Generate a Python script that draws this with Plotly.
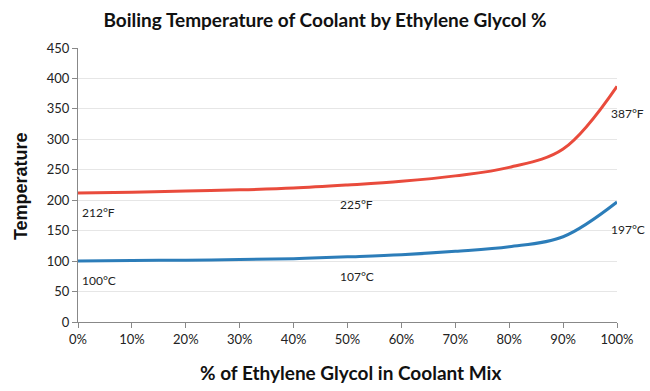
import plotly.graph_objects as go

pct = [0, 10, 20, 30, 40, 50, 60, 70, 80, 90, 100]
temp_f = [212, 213, 215, 217, 220, 225, 231, 240, 254, 284, 387]
temp_c = [100, 101, 101.5, 102.5, 104, 107, 110.5, 116, 123.5, 140, 197]

label_idx = [0, 5, 10]
RED = "rgb(233,75,60)"
BLUE = "rgb(44,125,185)"
FONT = "Lato"

fig = go.Figure()
fig.add_trace(go.Scatter(x=pct, y=temp_f, mode="lines",
                         line=dict(color=RED, width=3, shape="spline", smoothing=1.0),
                         hoverinfo="skip", showlegend=False))
fig.add_trace(go.Scatter(x=pct, y=temp_c, mode="lines",
                         line=dict(color=BLUE, width=3, shape="spline", smoothing=1.0),
                         hoverinfo="skip", showlegend=False))

anns = []
for series, unit in ((temp_f, "°F"), (temp_c, "°C")):
    for i in label_idx:
        x = pct[i]
        if i == 0:
            xa, xs = "left", 2
        elif i == len(pct) - 1:
            xa, xs = "left", -8
        else:
            xa, xs = "center", 9
        ys = -10 if i != len(pct) - 1 else -18
        anns.append(dict(x=x, y=series[i], xref="x", yref="y",
                         text=f"{round(series[i])}{unit}", showarrow=False,
                         xanchor=xa, yanchor="top", xshift=xs, yshift=ys,
                         font=dict(family=FONT, size=12, color="#222")))

anns.append(dict(text="<b>% of Ethylene Glycol in Coolant Mix</b>",
                 xref="paper", yref="paper", x=0.505, y=0, yshift=-50,
                 xanchor="center", yanchor="middle", showarrow=False,
                 font=dict(family=FONT, size=19, color="#111")))
anns.append(dict(text="<b>Temperature</b>", textangle=-90,
                 xref="paper", yref="paper", x=0, xshift=-57, y=0.496,
                 xanchor="center", yanchor="middle", showarrow=False,
                 font=dict(family="Liberation Sans", size=18, color="#111")))

fig.update_layout(
    width=650, height=391,
    margin=dict(l=78, r=33, t=48, b=69),
    plot_bgcolor="white", paper_bgcolor="white",
    title=dict(text="<b>Boiling Temperature of Coolant by Ethylene Glycol %</b>",
               x=0.5, xanchor="center", xref="container",
               y=1 - 20 / 391, yanchor="middle", yref="container",
               font=dict(family=FONT, size=19, color="#111")),
    annotations=anns,
    font=dict(family=FONT, size=13, color="#333"),
    hovermode=False,
)
fig.update_xaxes(range=[0, 100], tickvals=pct, ticktext=[f"{p}%" for p in pct],
                 showgrid=False, showline=True, linecolor="#888", linewidth=1,
                 ticks="outside", ticklen=5, tickcolor="#888", zeroline=False,
                 tickfont=dict(family=FONT, size=13, color="#222"))
fig.update_yaxes(range=[0, 450], dtick=50, showgrid=True, gridcolor="#e6e6e6",
                 showline=True, linecolor="#888", linewidth=1,
                 ticks="outside", ticklen=5, tickcolor="#888", zeroline=False,
                 tickfont=dict(family=FONT, size=13, color="#222"))

# remove the default page margin so the figure sits at the window's corner
fig.write_html("out.html",
               config={"displayModeBar": False},
               post_script="document.body.style.margin='0';"
                           "document.body.style.overflow='hidden';"
                           "document.documentElement.style.overflow='hidden';")
